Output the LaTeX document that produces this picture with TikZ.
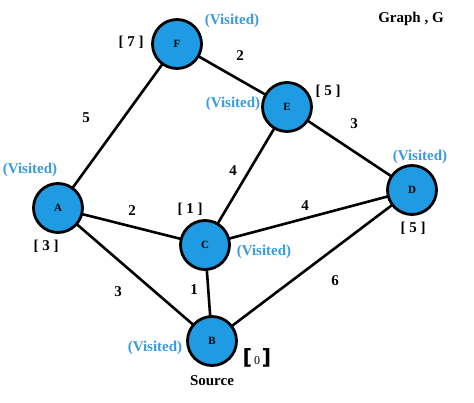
\documentclass[tikz,border=0pt]{standalone}
\usepackage{fontspec}
\setmainfont{Liberation Serif}
\newfontfamily\brfont{DejaVu Sans}
\definecolor{nodeblue}{HTML}{1E9BE2}
\definecolor{visblue}{HTML}{3A9CDC}
\begin{document}
\begin{tikzpicture}[x=1pt,y=-1pt,
  vert/.style={circle,draw=black,line width=2.8pt,fill=nodeblue,minimum size=49pt,inner sep=0pt,font=\fontsize{11}{11}\selectfont\bfseries},
  edge/.style={line width=2.6pt,black},
  lbl/.style={font=\fontsize{15}{15}\selectfont\bfseries,inner sep=0pt},
  vis/.style={lbl,text=visblue}]
\useasboundingbox (0,0) rectangle (474,403);
\fill[white] (0,0) rectangle (474,403);
% edges first
\coordinate (pA) at (58,208);
\coordinate (pB) at (212,341);
\coordinate (pC) at (205,245);
\coordinate (pD) at (412,190);
\coordinate (pE) at (287,107);
\coordinate (pF) at (177,44);
\draw[edge] (pA) -- (pF);
\draw[edge] (pF) -- (pE);
\draw[edge] (pE) -- (pC);
\draw[edge] (pE) -- (pD);
\draw[edge] (pA) -- (pC);
\draw[edge] (pC) -- (pD);
\draw[edge] (pA) -- (pB);
\draw[edge] (pC) -- (pB);
\draw[edge] (pD) -- (pB);
% vertices
\node[vert] (A) at (pA) {A};
\node[vert] (B) at (pB) {B};
\node[vert] (C) at (pC) {C};
\node[vert] (D) at (pD) {D};
\node[vert] (E) at (pE) {E};
\node[vert] (F) at (pF) {F};
% edge weights
\node[lbl] (wAF) at (86,118) {5};
\node[lbl] (wFE) at (240,56) {2};
\node[lbl] (wEC) at (233,171) {4};
\node[lbl] (wED) at (354,124) {3};
\node[lbl] (wAC) at (132,211) {2};
\node[lbl] (wCD) at (305,206) {4};
\node[lbl] (wAB) at (118,292) {3};
\node[lbl] (wCB) at (194,290) {1};
\node[lbl] (wDB) at (335,281) {6};
% visited labels
\node[vis] (vF) at (232,21) {(Visited)};
\node[vis] (vA) at (30,170) {(Visited)};
\node[vis] (vC) at (264,252) {(Visited)};
\node[vis] (vD) at (420,157) {(Visited)};
\node[vis] (vE) at (233,104) {(Visited)};
\node[vis] (vB) at (155,348) {(Visited)};
% distances
\node[lbl] (dF) at (131,42) {[ 7 ]};
\node[lbl] (dA) at (46,246) {[ 3 ]};
\node[lbl] (dC) at (190,209) {[ 1 ]};
\node[lbl] (dD) at (413,228) {[ 5 ]};
\node[lbl] (dE) at (328,91) {[ 5 ]};
\node[inner sep=0pt] (dB) at (257,358) {{\brfont\fontsize{21}{21}\selectfont\bfseries[}\,{\fontsize{12}{12}\selectfont 0}\,{\brfont\fontsize{21}{21}\selectfont\bfseries]}};
\node[lbl] (src) at (212,381) {Source};
\node[lbl] (title) at (411,19) {Graph , G};
\end{tikzpicture}
\end{document}
